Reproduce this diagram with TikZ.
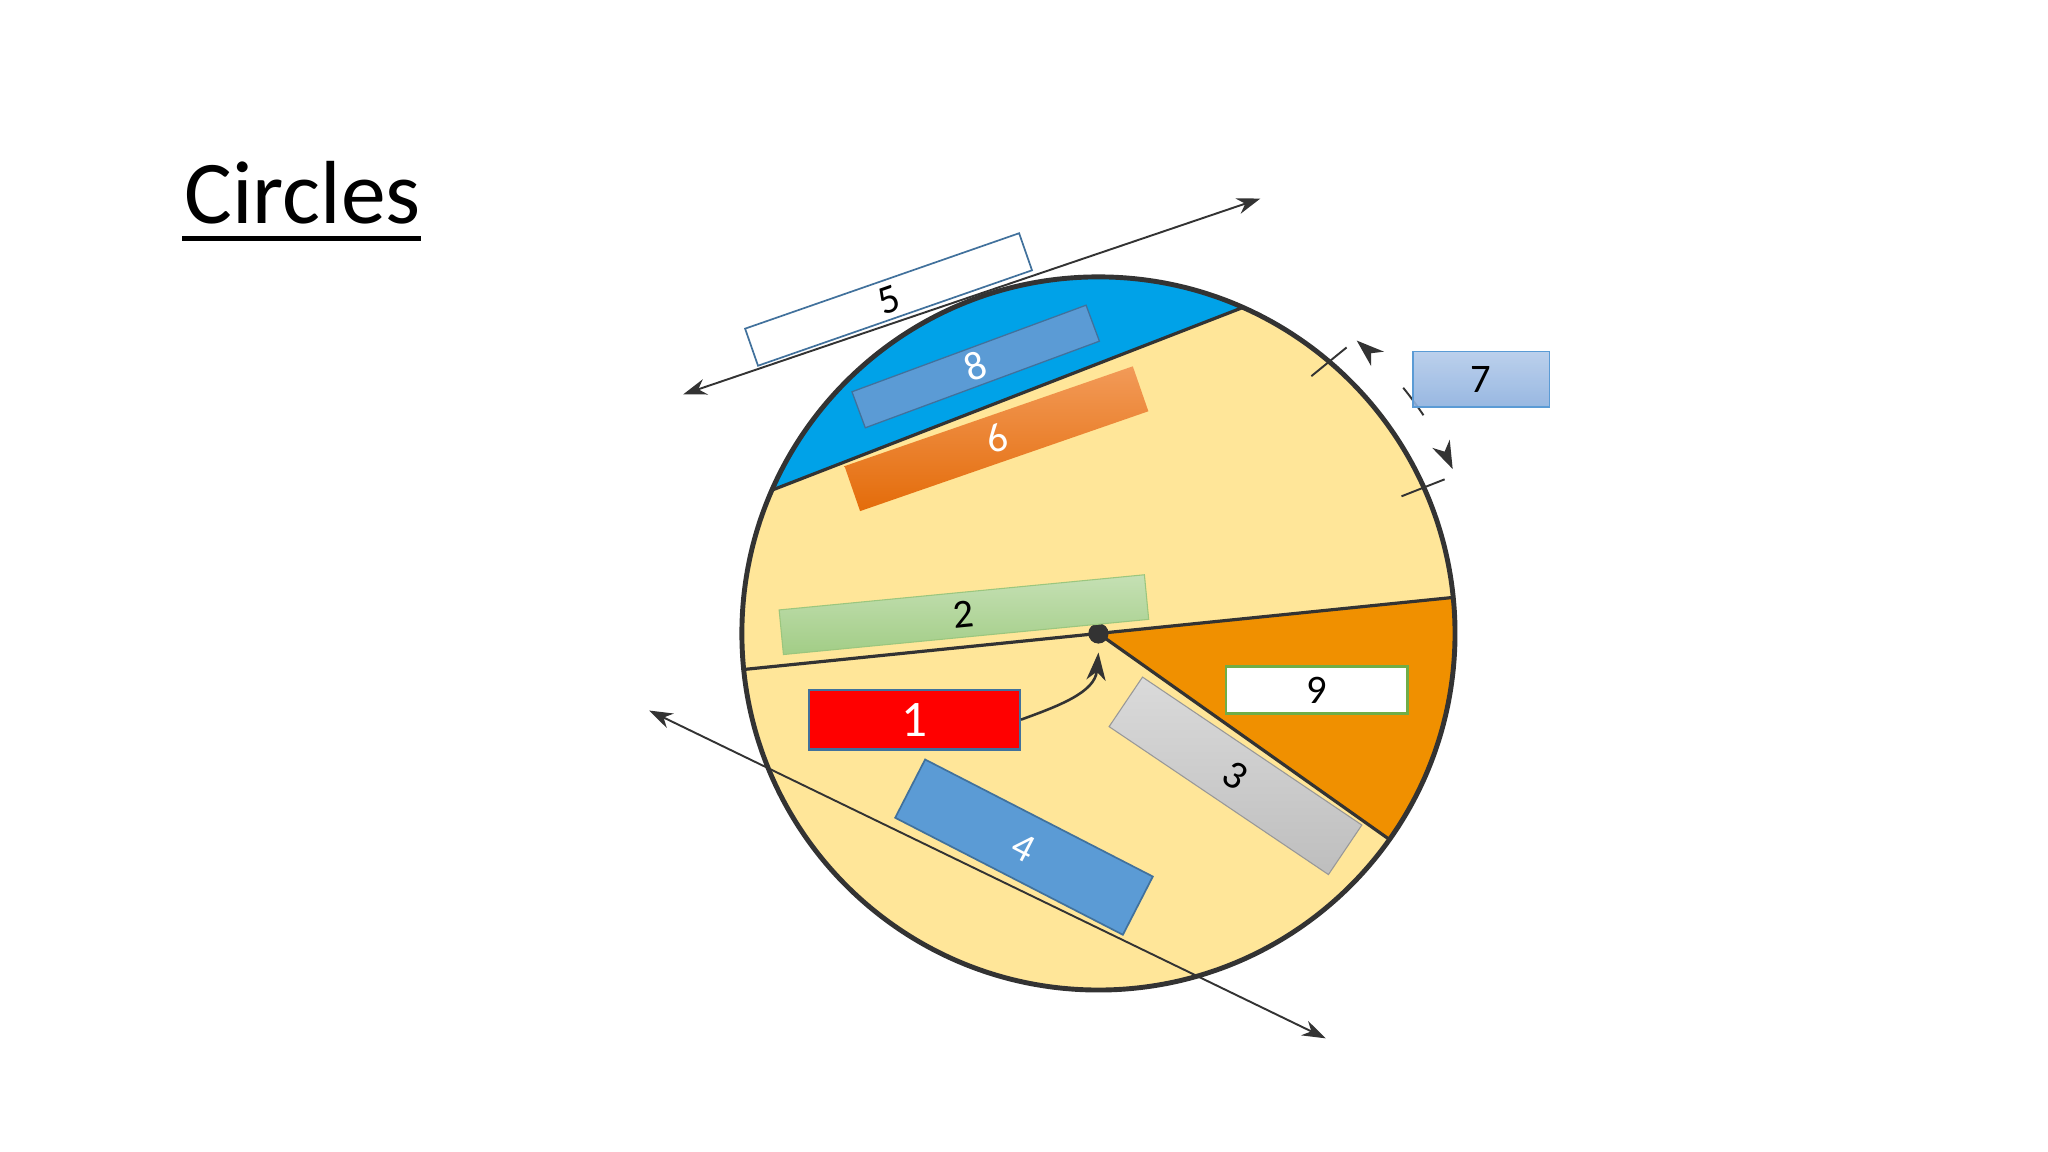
\documentclass[tikz,border=0pt]{standalone}
\usepackage{fontspec}
\setmainfont{Carlito}
\usepackage{xcolor}
\usetikzlibrary{arrows.meta}

\definecolor{discyellow}{HTML}{FFE699}
\definecolor{capblue}{HTML}{00A2E8}
\definecolor{wedgeorange}{HTML}{F09000}
\definecolor{rim}{HTML}{333333}
\definecolor{tagblue}{HTML}{5B9BD5}
\definecolor{tagedge}{HTML}{41719C}
\definecolor{taggreen}{HTML}{70AD47}
\definecolor{sixlight}{HTML}{F29A58}
\definecolor{sixdark}{HTML}{E46C0A}
\definecolor{twolight}{HTML}{C5E0B4}
\definecolor{twodark}{HTML}{A2CD86}
\definecolor{threelight}{HTML}{DADADA}
\definecolor{threedark}{HTML}{BEBEBE}
\definecolor{sevenlight}{HTML}{B4CBEA}
\definecolor{sevendark}{HTML}{8DB0DE}

\tikzset{barb/.tip={Stealth[length=11pt,width=7.5pt,inset=3.5pt]},
  bigbarb/.tip={Stealth[length=13pt,width=9pt,inset=4pt]}}

\begin{document}
\begin{tikzpicture}[x=0.6122pt, y=0.6122pt,
  tag/.style={inner sep=0pt, font=\fontsize{19}{22}\selectfont},
  ray/.style={draw=rim, line width=0.9pt, barb-barb}]
\useasboundingbox (0,0) rectangle (1568,882);

% title
\node[anchor=base west, inner sep=0pt, font=\fontsize{42}{50}\selectfont] (title) at (141,711) {Circles};
\draw[line width=2.2pt] ([xshift=-1pt,yshift=-7pt]title.base west) -- ([yshift=-7pt]title.base east);

% the disc, its cap and its wedge
\begin{scope}[shift={(841,397)}]
\fill[discyellow] (0,0) circle (273);
\fill[capblue] (66.1:273) arc (66.1:156.3:273) -- cycle;
\fill[wedgeorange] (0,0) -- (5.8:273) arc (5.8:-35.3:273) -- cycle;
\draw[rim, line width=1.5pt] (156.3:273) -- (66.1:273);
\draw[rim, line width=1.5pt] (185.8:273) -- (5.8:273);
\draw[rim, line width=1.5pt] (0,0) -- (-35.3:273);
\draw[rim, line width=2.3pt] (0,0) circle (273);
% arc marks
\draw[rim, line width=0.9pt] (163,197) -- (190,219);
\draw[rim, line width=0.9pt] (232,105) -- (265,118);
\draw[rim, line width=0.9pt, bigbarb-bigbarb, dash pattern=on 0pt off 22.5pt on 16pt off 200pt] (48.6:299) arc (48.6:24.9:299);
\node[circle, fill=rim, inner sep=0pt, minimum size=9.5pt] (ctr) at (0,0) {};
\end{scope}

% tangent and secant
\coordinate (tanA) at (523,580);
\coordinate (tanB) at (965,730);
\coordinate (secA) at (497,338);
\coordinate (secB) at (1015,87);
\draw[ray] (tanA) -- (tanB);
\draw[ray] (secA) -- (secB);

% labels
\node[tag, draw=tagedge, fill=white, line width=0.8pt, rotate=19.2, minimum width=136pt, minimum height=18.4pt] (lab5) at (680.3,652.7) {5};
\node[tag, draw=tagedge, fill=tagblue, text=white, line width=0.6pt, rotate=20.3, minimum width=117pt, minimum height=18pt] (lab8) at (747,601.4) {8};
\node[tag, top color=sixlight, bottom color=sixdark, text=white, rotate=19.1, minimum width=143pt, minimum height=22.3pt] (lab6) at (762.9,546.1) {6};
\node[tag, draw=taggreen!70, top color=twolight, bottom color=twodark, line width=0.5pt, rotate=5.5, minimum width=172pt, minimum height=21pt] (lab2) at (738,411.4) {2};
\node[tag, draw=tagedge, fill=red, text=white, line width=1pt, font=\fontsize{24}{28}\selectfont, minimum width=99pt, minimum height=28pt] (lab1) at (700,331) {1};
\node[tag, draw=taggreen, fill=white, line width=1.2pt, minimum width=85pt, minimum height=22pt] (lab9) at (1008,353.7) {9};
\node[tag, draw=threedark!80!black, top color=threelight, bottom color=threedark, line width=0.5pt, rotate=-34, minimum width=124pt, minimum height=28pt] (lab3) at (945.9,288) {3};
\node[tag, draw=tagedge, fill=tagblue, text=white, line width=0.8pt, rotate=-27.2, minimum width=120pt, minimum height=30.7pt] (lab4) at (784,233.4) {4};
\node[tag, draw=tagblue, top color=sevenlight, bottom color=sevendark, line width=0.8pt, fill opacity=0.9, text opacity=1, minimum width=64pt, minimum height=26pt] (lab7) at (1134,591.7) {7};

% pointer to the centre
\draw[rim, line width=1.2pt, -bigbarb] (lab1.east) to[out=20, in=-95] ([yshift=-4pt]ctr.south);
\end{tikzpicture}
\end{document}
